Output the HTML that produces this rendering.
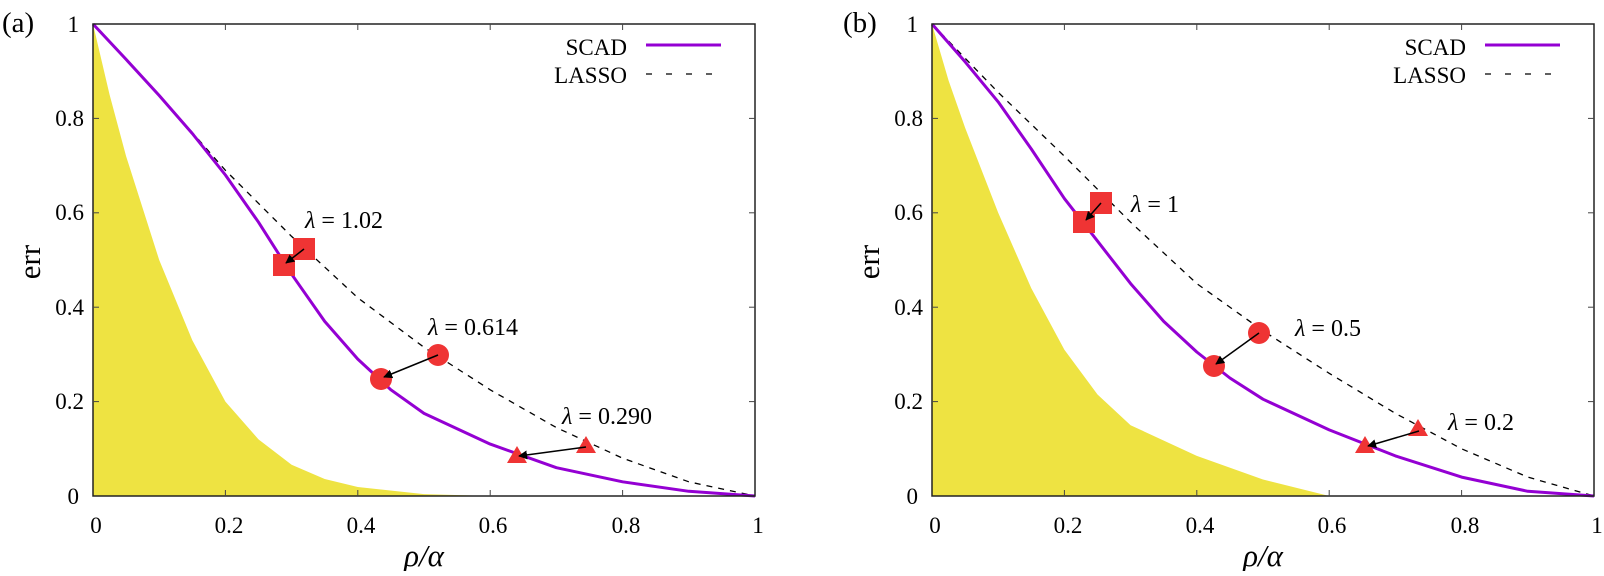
<!DOCTYPE html>
<html><head><meta charset="utf-8"><style>
html,body{margin:0;padding:0;background:#fff;}
svg, svg text{font-family:"Liberation Serif","DejaVu Serif",serif;}
</style></head><body>
<svg width="1604" height="571" viewBox="0 0 1604 571" xmlns="http://www.w3.org/2000/svg" font-family="Liberation Serif, serif">
<defs>
<marker id="ah" viewBox="0 0 10 10" refX="9" refY="5" markerWidth="9" markerHeight="9" markerUnits="userSpaceOnUse" orient="auto">
<path d="M0,0 L10,5 L0,10 z" fill="#000"/>
</marker>
</defs>

<!-- ================= Panel A ================= -->
<polygon fill="#eee342" points="93,24 109.6,94.8 126.1,156.2 159.2,260 192.3,340.2 225.4,401.6 258.5,439.4 291.6,464.8 324.7,479 357.8,487 424,494.1 490.2,496 93,496"/>
<polyline fill="none" stroke="#000" stroke-width="1.3" stroke-dasharray="6,6" points="93,24 159.2,94.8 225.4,170.3 291.6,236.4 357.8,297.8 424,347.3 490.2,389.8 556.4,427.6 622.6,458.2 688.8,481.8 755,496"/>
<polyline fill="none" stroke="#9400d3" stroke-width="3" stroke-linejoin="round" points="93,24 126.1,59.4 159.2,95.5 192.3,133.5 225.4,175 258.5,222.2 291.6,274.2 324.7,321.4 357.8,359.1 390.9,389.8 424,413.4 490.2,444.1 556.4,467.7 622.6,481.8 688.8,491.3 755,496"/>
<rect x="293" y="238" width="22" height="22" fill="#ef3434"/>
<rect x="273" y="254" width="22" height="22" fill="#ef3434"/>
<circle cx="438" cy="355" r="11" fill="#ef3434"/>
<circle cx="381" cy="379" r="11" fill="#ef3434"/>
<polygon points="576,453 586,436 596,453" fill="#ef3434"/>
<polygon points="507,463 517,446 527,463" fill="#ef3434"/>
<line x1="304" y1="249" x2="286" y2="263" stroke="#000" stroke-width="1.5" marker-end="url(#ah)"/>
<line x1="438" y1="355" x2="384" y2="377" stroke="#000" stroke-width="1.5" marker-end="url(#ah)"/>
<line x1="586" y1="447" x2="519" y2="456" stroke="#000" stroke-width="1.5" marker-end="url(#ah)"/>
<text x="305" y="228" font-size="24"><tspan font-style="italic">λ</tspan> = 1.02</text>
<text x="428" y="335" font-size="24"><tspan font-style="italic">λ</tspan> = 0.614</text>
<text x="562" y="424" font-size="24"><tspan font-style="italic">λ</tspan> = 0.290</text>
<rect x="93" y="24" width="662" height="472" fill="none" stroke="#222" stroke-width="1.5"/>
<g stroke="#444" stroke-width="1">
<line x1="225.4" y1="496" x2="225.4" y2="490"/><line x1="357.8" y1="496" x2="357.8" y2="490"/><line x1="490.2" y1="496" x2="490.2" y2="490"/><line x1="622.6" y1="496" x2="622.6" y2="490"/>
<line x1="225.4" y1="24" x2="225.4" y2="30"/><line x1="357.8" y1="24" x2="357.8" y2="30"/><line x1="490.2" y1="24" x2="490.2" y2="30"/><line x1="622.6" y1="24" x2="622.6" y2="30"/>
<line x1="93" y1="401.6" x2="99" y2="401.6"/><line x1="93" y1="307.2" x2="99" y2="307.2"/><line x1="93" y1="212.8" x2="99" y2="212.8"/><line x1="93" y1="118.4" x2="99" y2="118.4"/>
<line x1="755" y1="401.6" x2="749" y2="401.6"/><line x1="755" y1="307.2" x2="749" y2="307.2"/><line x1="755" y1="212.8" x2="749" y2="212.8"/><line x1="755" y1="118.4" x2="749" y2="118.4"/>
</g>
<g font-size="23" text-anchor="end">
<text x="79" y="504">0</text><text x="84" y="409">0.2</text><text x="84" y="315">0.4</text><text x="84" y="220">0.6</text><text x="84" y="126">0.8</text><text x="79" y="32">1</text>
</g>
<g font-size="23" text-anchor="middle">
<text x="96" y="533">0</text><text x="229" y="533">0.2</text><text x="361" y="533">0.4</text><text x="493" y="533">0.6</text><text x="626" y="533">0.8</text><text x="758" y="533">1</text>
</g>
<text x="2" y="32" font-size="29">(a)</text>
<text transform="translate(40,262) rotate(-90)" font-size="31" text-anchor="middle">err</text>
<text x="424" y="566" font-size="31" text-anchor="middle" font-style="italic">ρ/α</text>
<text x="627" y="55" font-size="23" text-anchor="end">SCAD</text>
<line x1="646" y1="45" x2="721" y2="45" stroke="#9400d3" stroke-width="3"/>
<text x="627" y="83" font-size="23" text-anchor="end">LASSO</text>
<line x1="646" y1="74" x2="721" y2="74" stroke="#000" stroke-width="1.3" stroke-dasharray="6,14"/>

<!-- ================= Panel B ================= -->
<polygon fill="#eee342" points="932,24 948.6,80.6 965.1,127.8 998.2,212.8 1031.3,288.3 1064.4,349.7 1097.5,394.5 1130.6,425.2 1196.8,455.9 1263,479.5 1329.2,496 932,496"/>
<polyline fill="none" stroke="#000" stroke-width="1.3" stroke-dasharray="6,6" points="932,24 998.2,92.4 1064.4,156.2 1130.6,222.2 1196.8,283.6 1263,330.8 1329.2,373.3 1395.4,413.4 1461.6,448.8 1527.8,477.1 1594,496"/>
<polyline fill="none" stroke="#9400d3" stroke-width="3" stroke-linejoin="round" points="932,24 965.1,61.8 998.2,101.9 1031.3,149 1064.4,198.6 1097.5,241.1 1130.6,283.6 1163.7,321.4 1196.8,352 1229.9,378 1263,399.2 1329.2,429.9 1395.4,455.9 1461.6,477.1 1527.8,491.3 1594,496"/>
<rect x="1090" y="192" width="22" height="22" fill="#ef3434"/>
<rect x="1073" y="211" width="22" height="22" fill="#ef3434"/>
<circle cx="1259" cy="333" r="11" fill="#ef3434"/>
<circle cx="1214" cy="366" r="11" fill="#ef3434"/>
<polygon points="1408,436 1418,419 1428,436" fill="#ef3434"/>
<polygon points="1355,453 1365,436 1375,453" fill="#ef3434"/>
<line x1="1101" y1="203" x2="1086" y2="220" stroke="#000" stroke-width="1.5" marker-end="url(#ah)"/>
<line x1="1259" y1="333" x2="1216" y2="364" stroke="#000" stroke-width="1.5" marker-end="url(#ah)"/>
<line x1="1419" y1="431" x2="1368" y2="446" stroke="#000" stroke-width="1.5" marker-end="url(#ah)"/>
<text x="1131" y="212" font-size="24"><tspan font-style="italic">λ</tspan> = 1</text>
<text x="1295" y="336" font-size="24"><tspan font-style="italic">λ</tspan> = 0.5</text>
<text x="1448" y="430" font-size="24"><tspan font-style="italic">λ</tspan> = 0.2</text>
<rect x="932" y="24" width="662" height="472" fill="none" stroke="#222" stroke-width="1.5"/>
<g stroke="#444" stroke-width="1">
<line x1="1064.4" y1="496" x2="1064.4" y2="490"/><line x1="1196.8" y1="496" x2="1196.8" y2="490"/><line x1="1329.2" y1="496" x2="1329.2" y2="490"/><line x1="1461.6" y1="496" x2="1461.6" y2="490"/>
<line x1="1064.4" y1="24" x2="1064.4" y2="30"/><line x1="1196.8" y1="24" x2="1196.8" y2="30"/><line x1="1329.2" y1="24" x2="1329.2" y2="30"/><line x1="1461.6" y1="24" x2="1461.6" y2="30"/>
<line x1="932" y1="401.6" x2="938" y2="401.6"/><line x1="932" y1="307.2" x2="938" y2="307.2"/><line x1="932" y1="212.8" x2="938" y2="212.8"/><line x1="932" y1="118.4" x2="938" y2="118.4"/>
<line x1="1594" y1="401.6" x2="1588" y2="401.6"/><line x1="1594" y1="307.2" x2="1588" y2="307.2"/><line x1="1594" y1="212.8" x2="1588" y2="212.8"/><line x1="1594" y1="118.4" x2="1588" y2="118.4"/>
</g>
<g font-size="23" text-anchor="end">
<text x="918" y="504">0</text><text x="923" y="409">0.2</text><text x="923" y="315">0.4</text><text x="923" y="220">0.6</text><text x="923" y="126">0.8</text><text x="918" y="32">1</text>
</g>
<g font-size="23" text-anchor="middle">
<text x="935" y="533">0</text><text x="1068" y="533">0.2</text><text x="1200" y="533">0.4</text><text x="1332" y="533">0.6</text><text x="1465" y="533">0.8</text><text x="1597" y="533">1</text>
</g>
<text x="843" y="32" font-size="29">(b)</text>
<text transform="translate(879,262) rotate(-90)" font-size="31" text-anchor="middle">err</text>
<text x="1263" y="566" font-size="31" text-anchor="middle" font-style="italic">ρ/α</text>
<text x="1466" y="55" font-size="23" text-anchor="end">SCAD</text>
<line x1="1485" y1="45" x2="1560" y2="45" stroke="#9400d3" stroke-width="3"/>
<text x="1466" y="83" font-size="23" text-anchor="end">LASSO</text>
<line x1="1485" y1="74" x2="1560" y2="74" stroke="#000" stroke-width="1.3" stroke-dasharray="6,14"/>
</svg>
</body></html>
